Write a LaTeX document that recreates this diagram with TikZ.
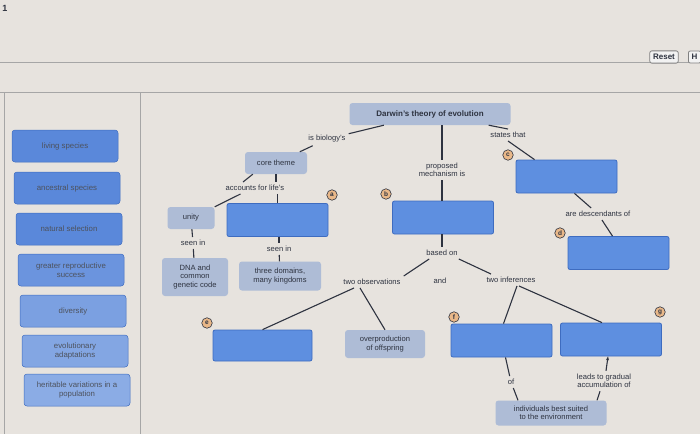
\documentclass[tikz,border=0pt]{standalone}
\usepackage{fontspec}
\setmainfont{Liberation Sans}
\usetikzlibrary{arrows.meta}
\definecolor{bg}{HTML}{E7E3DE}
\definecolor{cpt}{HTML}{AEBCD6}
\definecolor{blu}{HTML}{5E8FE0}
\definecolor{bluD}{HTML}{3E6CC0}
\definecolor{org}{HTML}{E9B889}
\definecolor{txt}{HTML}{2E3340}
\definecolor{bank}{HTML}{5A88DA}
\begin{document}
\begin{tikzpicture}[x=1pt,y=-1pt,
  every node/.style={text=txt,font=\fontsize{7.6}{8.4}\selectfont},
  cpt/.style={fill=cpt,rounded corners=3pt,align=center,inner sep=3pt},
  box/.style={fill=blu,draw=bluD,line width=0.8pt,rounded corners=2pt,minimum width=101pt,minimum height=33pt},
  lab/.style={align=center,inner sep=3pt},
  circ/.style={circle,fill=org,draw=txt,line width=0.6pt,inner sep=0pt,minimum size=10.5pt,font=\fontsize{6.5}{6.5}\selectfont\bfseries},
  bk/.style={fill=bank,draw=bluD,line width=0.5pt,rounded corners=3pt,minimum width=106pt,minimum height=32pt,align=center,text=txt!85,font=\fontsize{7.8}{8.6}\selectfont},
  ln/.style={draw=txt,line width=1.1pt}]
\fill[bg] (0,0) rectangle (700,434);
\useasboundingbox (0,0) rectangle (700,434);
\draw[gray!70] (0,62) -- (700,62);
\draw[gray!70] (0,92) -- (700,92);
\draw[gray!70] (4,92) -- (4,434);
\draw[gray!70] (140,92) -- (140,434);
\node[font=\fontsize{9}{9}\selectfont\bfseries] (num) at (5,8) {1};
\node[draw=gray,line width=0.8pt,rounded corners=2pt,fill=gray!10,font=\fontsize{8}{8}\selectfont\bfseries] (reset) at (664,57) {Reset};
\node[draw=gray,line width=0.8pt,rounded corners=2pt,fill=gray!10,font=\fontsize{8}{8}\selectfont\bfseries,anchor=west] (h) at (688,57) {H};
% bank
\node[bk] (b1) at (65,146) {living species};
\node[bk] (b2) at (67,188) {ancestral species};
\node[bk] (b3) at (69,229) {natural selection};
\node[bk,fill=bank!90!white] (b4) at (71,270) {greater reproductive\\success};
\node[bk,fill=bank!80!white] (b5) at (73,311) {diversity};
\node[bk,fill=bank!75!white] (b6) at (75,351) {evolutionary\\adaptations};
\node[bk,fill=bank!70!white] (b7) at (77,390) {heritable variations in a\\population};
% concepts
\node[cpt,font=\fontsize{8}{8.5}\selectfont\bfseries,minimum width=161pt,minimum height=22pt] (dar) at (430,114) {Darwin's theory of evolution};
\node[cpt,minimum width=62pt,minimum height=22pt] (core) at (276,163) {core theme};
\node[cpt,minimum width=47pt,minimum height=22pt] (unity) at (191,218) {unity};
\node[cpt,minimum width=66pt,minimum height=38pt] (dna) at (195,277) {DNA and\\common\\genetic code};
\node[cpt,minimum width=82pt,minimum height=29pt] (three) at (280,276) {three domains,\\many kingdoms};
\node[cpt,minimum width=80pt,minimum height=28pt] (over) at (385,344) {overproduction\\of offspring};
\node[cpt,minimum width=111pt,minimum height=25pt] (ind) at (551,413) {individuals best suited\\to the environment};
% blank boxes
\node[box] (ba) at (277.5,220) {};
\node[box] (bb) at (443,217.5) {};
\node[box] (bc) at (566.5,176.5) {};
\node[box] (bd) at (618.5,253) {};
\node[box,minimum height=31pt,minimum width=99pt] (be) at (262.5,345.5) {};
\node[box] (bf) at (501.5,340.5) {};
\node[box] (bg) at (611,339.5) {};
% circles
\node[circ] (ca) at (332,195) {a};
\node[circ] (cb) at (386,194) {b};
\node[circ] (cc) at (508,155) {c};
\node[circ] (cd) at (560,233) {d};
\node[circ] (ce) at (207,323) {e};
\node[circ] (cf) at (454,317) {f};
\node[circ] (cg) at (660,312) {g};
% link labels
\node[lab] (isb) at (327,139) {is biology's};
\node[lab] (acc) at (255,188) {accounts for life's};
\node[lab] (si1) at (193,243) {seen in};
\node[lab] (si2) at (279,249) {seen in};
\node[lab] (prop) at (442,170) {proposed\\mechanism is};
\node[lab] (st) at (508,135) {states that};
\node[lab] (desc) at (598,214) {are descendants of};
\node[lab] (based) at (442,253) {based on};
\node[lab] (obs) at (372,282) {two observations};
\node[lab] (and) at (440,281) {and};
\node[lab] (inf) at (511,280) {two inferences};
\node[lab] (of) at (511,382) {of};
\node[lab] (leads) at (604,381) {leads to gradual\\accumulation of};
% connectors
\draw[ln] (dar) -- (isb);
\draw[ln] (isb) -- (core);
\draw[ln] (core.south west) ++(8,0) -- (acc.north west -| 243,183);
\draw[ln] (core.south) -- (acc.north -| core.south);
\draw[ln] (acc.south west) ++(18,0) -- (unity.north east);
\draw[ln] (acc.south -| ba.north) -- (ba.north);
\draw[ln] (unity) -- (si1);
\draw[ln] (si1) -- (dna);
\draw[ln] (ba.south -| si2) -- (si2);
\draw[ln] (si2) -- (three);
\draw[ln] (dar.south -| prop.north) -- (prop.north);
\draw[ln] (prop.south) -- (bb.north -| prop.south);
\draw[ln] (dar.south east) ++(-22,0) -- (st.north);
\draw[ln] (st.south) -- ([xshift=-32pt]bc.north);
\draw[ln] ([xshift=8pt]bc.south) -- (desc);
\draw[ln] (desc) -- ([xshift=-6pt]bd.north);
\draw[ln] (bb.south -| based.north) -- (based.north);
\draw[ln] (based.south west) ++(6,0) -- (obs.north east);
\draw[ln] (based.south east) ++(-2,0) -- ([xshift=-20pt]inf.north);
\draw[ln] ([xshift=-18pt]obs.south) -- (be.north);
\draw[ln] ([xshift=-12pt]obs.south) -- (over.north);
\draw[ln] ([xshift=6pt]inf.south) -- ([xshift=2pt]bf.north);
\draw[ln] ([xshift=8pt]inf.south) -- ([xshift=-9pt]bg.north);
\draw[ln] ([xshift=4pt]bf.south) -- (of);
\draw[ln] (of) -- ([xshift=-33pt]ind.north);
\draw[ln] ([xshift=46pt]ind.north) -- ([xshift=-4pt]leads.south);
\draw[ln,-{Stealth[length=4pt]}] ([xshift=2pt]leads.north) -- ([xshift=-3pt]bg.south);
\end{tikzpicture}
\end{document}
